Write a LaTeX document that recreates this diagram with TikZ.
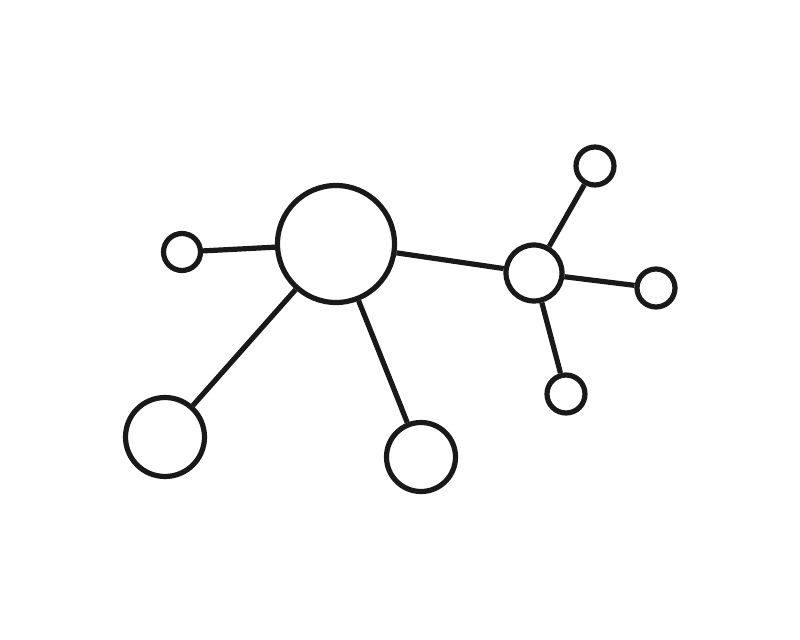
\documentclass[tikz,border=0pt]{standalone}
\begin{document}
\begin{tikzpicture}[x=0.25mm,y=-0.25mm,line width=1.3mm,
    atom/.style={circle,draw=black!90,inner sep=0pt,minimum size=#1*0.25mm},
    bond/.style={draw=black!90}]
    % 画布
    \useasboundingbox (0,0) rectangle (800,640);
    
    % 画原子
    \node [atom=117] (C) at (336,244) {};
    \node [atom=37] (L) at (182,252) {};
    \node [atom=79] (LB) at (165,437) {};
    \node [atom=69] (MB) at (421,457) {};
    \node [atom=56] (R) at (534,273) {};
    \node [atom=38] (RT) at (595,166) {};
    \node [atom=38] (RR) at (656,288) {};
    \node [atom=38] (RB) at (566,394) {};
    
    % 画化学键
    \draw [bond] (C) -- (L);
    \draw [bond] (C) -- (LB);
    \draw [bond] (C) -- (MB);
    \draw [bond] (C) -- (R);
    \draw [bond] (R) -- (RT);
    \draw [bond] (R) -- (RR);
    \draw [bond] (R) -- (RB);
\end{tikzpicture}
\end{document}
